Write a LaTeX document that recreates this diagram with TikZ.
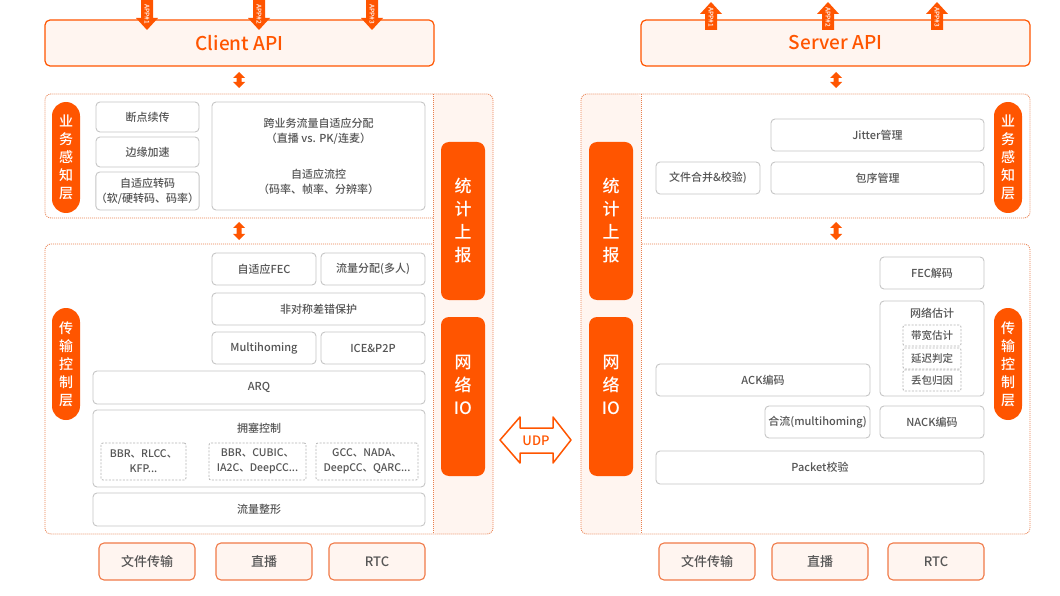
\documentclass[tikz,border=0pt]{standalone}
\usepackage{fontspec}
\setmainfont{Noto Sans CJK SC}[UprightFont=* Medium, BoldFont=* Bold]
\usetikzlibrary{calc}
\definecolor{accent}{HTML}{FF5500}
\definecolor{obord}{HTML}{F07A48}
\definecolor{lfill}{HTML}{FFF5F0}
\definecolor{gbord}{HTML}{C6C6C6}
\definecolor{gtext}{HTML}{555555}
\definecolor{dbord}{HTML}{B4B4B4}
\definecolor{secb}{HTML}{E9804F}
\tikzset{
 gbox/.style={draw=gbord, line width=0.9pt, rounded corners=4pt, fill=white, text=gtext, font=\fontsize{11}{15}\selectfont, align=center, inner sep=0pt},
 dbox/.style={draw=dbord, line width=0.8pt, dash pattern=on 2pt off 1.5pt, rounded corners=2pt, text=gtext, font=\fontsize{10.5}{15}\selectfont, align=center, inner sep=0pt},
 pill/.style={fill=accent, rounded corners=14pt, text=white, font=\fontsize{14}{18}\selectfont, align=center, inner sep=0pt},
 bigpill/.style={fill=accent, rounded corners=8pt, text=white, font=\fontsize{17}{23}\selectfont, align=center, inner sep=0pt},
 apibox/.style={draw=accent, fill=lfill, line width=1.2pt, rounded corners=5pt, text=accent, font=\fontsize{19}{22}\selectfont, inner sep=0pt},
 appbox/.style={draw=obord, fill=lfill, line width=1.1pt, rounded corners=5pt, text=gtext, font=\fontsize{13}{16}\selectfont, inner sep=0pt},
 section/.style={draw=secb, line width=0.8pt, dash pattern=on 1pt off 1pt, rounded corners=6pt},
 colline/.style={draw=secb, line width=0.8pt, dash pattern=on 1pt off 1pt},
 apptext/.style={text=white, font=\fontsize{6.5}{7}\selectfont, rotate=-90, inner sep=0pt},
 titletext/.style={text=gtext, font=\fontsize{11}{15}\selectfont, inner sep=0pt},
 pilltext/.style={text=white, font=\fontsize{17}{23}\selectfont, align=center, inner sep=0pt},
}
\newcommand\bx[7]{\node[#1, minimum width={#5-#3}, minimum height={#6-#4}] (#2) at ({(#3+#5)/2},{(#4+#6)/2}) {#7};}
\newcommand\appdown[3]{\fill[accent] ({#1-6},0) -- ({#1+6},0) -- ({#1+6},18) -- ({#1+11},18) -- (#1,30) -- ({#1-11},18) -- ({#1-6},18) -- cycle;
 \node[apptext] (#2) at (#1,14) {#3};}
\newcommand\appup[3]{\fill[accent] ({#1-6},30) -- ({#1+6},30) -- ({#1+6},14) -- ({#1+11},14) -- (#1,2) -- ({#1-11},14) -- ({#1-6},14) -- cycle;
 \node[apptext] (#2) at (#1,17) {#3};}
\newcommand\vdarr[4]{\coordinate (#1) at (#2,#3);
 \fill[accent] (#1) -- ++(6,6) -- ++(-3.5,0) -- ++(0,#4) -- ++(3.5,0) -- ++(-6,6) -- ++(-6,-6) -- ++(3.5,0) -- ++(0,-#4) -- ++(-3.5,0) -- cycle;}
\begin{document}
\begin{tikzpicture}[x=1pt,y=-1pt]
\useasboundingbox (0,0) rectangle (1060,596);
\fill[white] (0,0) rectangle (1060,596);

% ===== LEFT (client) =====
\bx{apibox}{capi}{45}{20}{434}{66}{Client API}
\appdown{147}{ca1}{APP\#1}
\appdown{259}{ca2}{APP\#2}
\appdown{372}{ca3}{APP\#3}
\vdarr{lda1}{239}{72}{4}

\fill[lfill, rounded corners=6pt] (433,94) rectangle (493,534);
\draw[section] (433,218) -| (45,94) -| (493,534) -| (45,244) -- (433,244);
\draw[colline] (433,94) -- (433,534);

\bx{pill}{lp1}{52}{102}{80}{213}{业\\务\\感\\知\\层}
\bx{gbox}{b1}{96}{102}{199}{132}{断点续传}
\bx{gbox}{b2}{96}{137}{199}{167}{边缘加速}
\bx{gbox}{b3}{96}{172}{199}{210}{自适应转码\\（软/硬转码、码率）}
\bx{gbox}{b4}{212}{102}{425}{210}{跨业务流量自适应分配\\（直播 vs. PK/连麦）\\[21pt]自适应流控\\（码率、帧率、分辨率）}

\bx{bigpill}{ls}{441}{142}{485}{300}{统\\计\\上\\报}
\bx{bigpill}{lio}{441}{317}{485}{476}{}
\node[pilltext] (liot) at (463,385) {网\\络\\IO};

\vdarr{lda2}{239}{222}{6}

\bx{pill}{lp2}{52}{308}{80}{420}{传\\输\\控\\制\\层}
\bx{gbox}{c1}{212}{253}{316}{285}{自适应FEC}
\bx{gbox}{c2}{321}{253}{425}{285}{流量分配(多人)}
\bx{gbox}{c3}{212}{293}{425}{325}{非对称差错保护}
\bx{gbox}{c4}{212}{332}{316}{364}{Multihoming}
\bx{gbox}{c5}{321}{332}{425}{364}{ICE\&P2P}
\bx{gbox}{c6}{93}{371}{425}{404}{ARQ}
\bx{gbox}{c7}{93}{410}{425}{487}{}
\node[titletext] (c7t) at (259,428) {拥塞控制};
\bx{dbox}{d1}{101}{443}{186}{480}{BBR、RLCC、\\KFP...}
\bx{dbox}{d2}{209}{443}{306}{480}{BBR、CUBIC、\\IA2C、DeepCC...}
\bx{dbox}{d3}{316}{443}{418}{480}{GCC、NADA、\\DeepCC、QARC...}
\bx{gbox}{c8}{93}{493}{425}{526}{流量整形}

\bx{appbox}{la1}{99}{543}{195}{580}{文件传输}
\bx{appbox}{la2}{216}{543}{312}{580}{直播}
\bx{appbox}{la3}{329}{543}{425}{580}{RTC}

% ===== UDP =====
\draw[accent, fill=white, line width=1.5pt, line join=round] (500,440) -- (520,417) -- (520,428) -- (553,428) -- (553,417) -- (571,440) -- (553,463) -- (553,453) -- (520,453) -- (520,463) -- cycle;
\node[text=accent, font=\fontsize{13}{15}\selectfont, inner sep=0pt] (udp) at (536,441) {UDP};

% ===== RIGHT (server) =====
\bx{apibox}{sapi}{641}{20}{1030}{66}{Server API}
\appup{711}{sa1}{APP\#1}
\appup{828}{sa2}{APP\#2}
\appup{937}{sa3}{APP\#3}
\vdarr{rda1}{836}{72}{4}

\fill[lfill, rounded corners=6pt] (581,94) rectangle (641,534);
\draw[section] (641,218) -| (1030,94) -| (581,534) -| (1030,244) -- (641,244);
\draw[colline] (641,94) -- (641,534);

\bx{bigpill}{rs}{589}{142}{633}{300}{统\\计\\上\\报}
\bx{bigpill}{rio}{589}{317}{633}{476}{}
\node[pilltext] (riot) at (611,385) {网\\络\\IO};

\bx{pill}{rp1}{994}{102}{1022}{213}{业\\务\\感\\知\\层}
\bx{gbox}{e1}{771}{119}{984}{151}{Jitter管理}
\bx{gbox}{e2}{656}{162}{760}{194}{文件合并\&校验)}
\bx{gbox}{e3}{771}{162}{984}{194}{包序管理}

\vdarr{rda2}{836}{222}{6}

\bx{pill}{rp2}{994}{308}{1022}{420}{传\\输\\控\\制\\层}
\bx{gbox}{f1}{880}{257}{984}{289}{FEC解码}
\bx{gbox}{f2}{880}{301}{984}{396}{}
\node[titletext] (f2t) at (932,313) {网络估计};
\bx{dbox}{g1}{903}{325}{961}{346}{带宽估计}
\bx{dbox}{g2}{903}{348}{961}{369}{延迟判定}
\bx{dbox}{g3}{903}{370}{961}{391}{丢包归因}
\bx{gbox}{f3}{656}{364}{870}{396}{ACK编码}
\bx{gbox}{f4}{765}{406}{870}{438}{合流(multihoming)}
\bx{gbox}{f5}{880}{406}{984}{438}{NACK编码}
\bx{gbox}{f6}{656}{451}{984}{484}{Packet校验}

\bx{appbox}{ra1}{659}{543}{755}{580}{文件传输}
\bx{appbox}{ra2}{772}{543}{868}{580}{直播}
\bx{appbox}{ra3}{888}{543}{984}{580}{RTC}
\end{tikzpicture}
\end{document}
